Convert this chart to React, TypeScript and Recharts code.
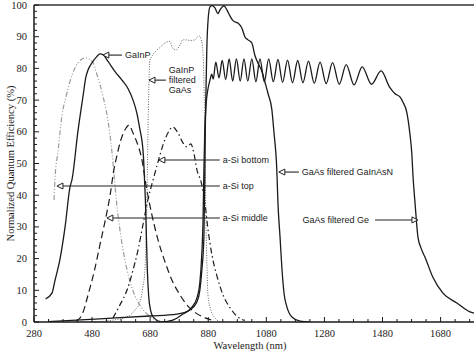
import React from 'react';
import { LineChart, Line, XAxis, YAxis, ReferenceLine } from 'recharts';

type Pt = [number, number];

// [wavelength nm, normalized QE %]
const gainp: Pt[] = [
  [320, 7.3], [342, 9.1], [352, 13], [369, 19.6], [387, 30], [404, 42.6], [411, 45],
  [431, 60], [450, 72], [458, 77], [466, 79.5], [480, 81.8], [497, 83.8], [507, 84.6],
  [518, 84.3], [535, 82.2], [559, 79], [583, 76.3], [604, 73.6], [621, 70], [634, 66],
  [645, 60.6], [652, 57], [657, 52], [660, 46], [664, 37], [667, 27], [670, 17],
  [675, 8], [682, 3.5], [690, 1.6],
];

const aSiTop: Pt[] = [
  [349, 38.5], [352, 44.8], [363, 54], [376, 65], [390, 71], [411, 77.9], [431, 81.7],
  [456, 83.3], [480, 82.3], [497, 78], [518, 71], [535, 63.4], [548, 54], [556, 46],
  [564, 38], [576, 29], [593, 19.6], [614, 11.7], [638, 6.3], [662, 3.2], [686, 1.3],
  [714, 0.3],
];

const aSiMiddle: Pt[] = [
  [425, 0.3], [445, 2.2], [466, 8.5], [490, 17], [507, 24.3], [524, 31.5], [542, 40],
  [555, 48], [566, 52.7], [579, 57.4], [597, 61.2], [607, 62.1], [621, 59.6], [634, 56.8],
  [652, 51], [666, 43], [686, 33.8], [707, 25.9], [731, 19], [755, 13.2], [783, 8.5],
  [810, 5], [838, 2.8], [869, 1.3], [903, 0.3],
];

const aSiBottom: Pt[] = [
  [552, 1.3], [576, 5.4], [600, 10], [621, 16.4], [638, 22.7], [655, 30.6], [672, 38.5],
  [690, 44.8], [707, 50.5], [724, 55.8], [741, 59.6], [758, 61.5], [776, 59.6],
  [793, 56.5], [807, 55.2], [820, 56.2], [831, 53], [841, 48], [856, 44], [868, 38],
  [878, 30], [893, 21], [910, 14.5], [931, 8.5], [955, 4.5], [979, 1.8], [1006, 0.5],
];

const gainpFilteredGaAs: Pt[] = [
  [473, 0], [552, 0.6], [600, 1.6], [628, 3.8], [645, 6.3], [655, 11], [662, 16.4],
  [666, 26.8], [669, 38.5], [672, 57.4], [676, 76.3], [679, 82.5], [686, 83.8],
  [700, 85.5], [714, 86.6], [734, 88.2], [748, 88.5], [757, 86.5], [768, 85.8],
  [783, 87.4], [792, 89], [806, 89], [817, 88.8], [834, 89], [848, 90.3], [856, 89],
  [862, 85], [865, 76], [869, 54], [872, 32], [876, 16.4], [879, 8.5], [889, 3.8],
  [903, 1.3], [920, 0],
];

const gaasFilteredGaInAsN: Pt[] = [
  [328, 0.1], [507, 1], [679, 1.9], [772, 2.5], [817, 3.8], [841, 6.3], [851, 10],
  [858, 16.4], [865, 26.8], [868, 45], [870, 62], [872, 72], [875, 86], [880, 96],
  [886, 99.4], [893, 99.8], [903, 99.1], [913, 97.3], [922, 98.7], [934, 99.7],
  [945, 98.3], [955, 96.5], [966, 95], [982, 94.3], [996, 92.7], [1006, 90], [1017, 89],
  [1030, 88], [1041, 84], [1051, 81.7], [1065, 79], [1075, 75.7], [1086, 72], [1099, 67],
  [1106, 60], [1116, 48], [1120, 37.5], [1127, 27], [1134, 16.4], [1141, 9], [1151, 4.7],
  [1168, 1.6], [1196, 0.3], [1230, 0],
];

const gaasFilteredGe: Pt[] = [
  [690, 1.6], [714, 0], [758, 0.6], [793, 2.5], [824, 4.7], [841, 7.6], [851, 12.3],
  [858, 21.8], [862, 32], [865, 48], [868, 60], [872, 68], [879, 73.5], [886, 76.3],
  [892, 78.2], [897, 76.6], [906, 82], [917, 77], [928, 82.5], [940, 76.5], [952, 83],
  [964, 76], [977, 83], [990, 76], [1003, 83], [1016, 76], [1030, 83], [1044, 75.8],
  [1058, 83], [1073, 75.8], [1088, 83], [1104, 75.8], [1120, 82.8], [1136, 75.6],
  [1153, 82.6], [1170, 75.5], [1188, 82.5], [1206, 75.5], [1225, 82.3], [1245, 75.3],
  [1265, 82], [1286, 75.2], [1308, 81.8], [1331, 75], [1355, 81.2], [1382, 74.8],
  [1410, 80.5], [1442, 75], [1475, 79.2], [1505, 74], [1523, 72], [1540, 71],
  [1550, 69.4], [1564, 66], [1574, 59.6], [1581, 53], [1585, 46], [1592, 37.5],
  [1602, 26.8], [1614, 23], [1626, 20.5], [1653, 14.2], [1688, 9.1], [1736, 6],
  [1781, 3.2], [1795, 2.8],
];

// arrow labels: tail and tip in data coords
const notes = [
  { lines: ['GaInP'], tail: [583, 84.2], tip: [517, 84.2] },
  { lines: ['GaInP', 'filtered', 'GaAs'], tail: [734, 76.3], tip: [676, 76.3] },
  { lines: ['a-Si bottom'], tail: [920, 51.1], tip: [710, 51.1] },
  { lines: ['a-Si top'], tail: [920, 42.9], tip: [359, 42.9] },
  { lines: ['a-Si middle'], tail: [920, 32.8], tip: [531, 32.8] },
  { lines: ['GaAs filtered GaInAsN'], tail: [1192, 47.3], tip: [1123, 47.3] },
  { lines: ['GaAs filtered Ge'], tail: [1454, 32.2], tip: [1602, 32.2] },
];

const xMajor = [280, 480, 680, 880, 1080, 1280, 1480, 1680];
const xTicks = Array.from({ length: 31 }, (_, i) => 280 + i * 50);
const yMajor = [0, 10, 20, 30, 40, 50, 60, 70, 80, 90, 100];
const yTicks = Array.from({ length: 51 }, (_, i) => i * 2);

const serif = '"Liberation Serif", "Times New Roman", serif';
const sans = '"Liberation Sans", Arial, sans-serif';
const ink = '#1a1a1a';

const rows = (pts: Pt[]) => pts.map(([nm, qe]) => ({ nm, qe }));

const XTick = ({ x, y, payload }: any) => {
  const major = xMajor.includes(payload.value);
  return (
    <g>
      <line x1={x} x2={x} y1={y} y2={y - (major ? 5 : 3)} stroke={ink} />
      {major && (
        <text x={x} y={y + 11} textAnchor="middle" dominantBaseline="central"
          fontFamily={serif} fontSize={10.5} fill={ink}>
          {payload.value}
        </text>
      )}
    </g>
  );
};

const YTick = ({ x, y, payload }: any) => {
  const major = yMajor.includes(payload.value);
  return (
    <g>
      <line x1={x} x2={x + (major ? 5 : 3)} y1={y} y2={y} stroke={ink} />
      {major && (
        <text x={x - 7} y={y} textAnchor="end" dominantBaseline="central"
          fontFamily={serif} fontSize={10.5} fill={ink}>
          {payload.value}
        </text>
      )}
    </g>
  );
};

const YLabel = ({ viewBox }: any) => {
  const cy = viewBox.y + viewBox.height / 2;
  return (
    <text x={10} y={cy} transform={`rotate(-90 10 ${cy})`} textAnchor="middle"
      dominantBaseline="central" fontFamily={serif} fontSize={10.5} fill={ink}>
      Normalized Quantum Efficiency (%)
    </text>
  );
};

const XLabel = ({ viewBox }: any) => (
  <text x={viewBox.x + viewBox.width / 2 - 4} y={viewBox.y + 23} textAnchor="middle"
    dominantBaseline="central" fontFamily={serif} fontSize={10.5} fill={ink}>
    Wavelength (nm)
  </text>
);

const Arrow = ({ x1, y1, x2, y2, lines }: any) => {
  const dir = x2 < x1 ? -1 : 1;
  const bx = x2 - dir * 6;
  const textX = dir < 0 ? x1 + 3 : x1 - 6;
  const offs = lines.length === 1 ? [0] : [-10, 0, 10];
  return (
    <g>
      <line x1={x1} y1={y1} x2={bx} y2={y2} stroke="#222" strokeWidth={1.1} />
      <polygon points={`${x2},${y2} ${bx},${y2 - 3} ${bx},${y2 + 3}`}
        fill="#fff" stroke="#222" strokeWidth={1} />
      {lines.map((t: string, i: number) => (
        <text key={t} x={textX} y={y1 + offs[i]} textAnchor={dir < 0 ? 'start' : 'end'}
          dominantBaseline="central" fontFamily={sans} fontSize={9} fill="#222">
          {t}
        </text>
      ))}
    </g>
  );
};

export default function App() {
  return (
    <div style={{ width: 474, height: 351, background: '#fff' }}>
      <style>{'body{margin:0}'}</style>
      <LineChart width={474} height={351} margin={{ top: 5, right: 0, bottom: 0, left: 0 }}>
        <XAxis
          type="number"
          dataKey="nm"
          domain={[280, 1795]}
          ticks={xTicks}
          interval={0}
          height={29}
          tickSize={0}
          tickMargin={0}
          tickLine={false}
          tick={<XTick />}
          axisLine={{ stroke: ink, strokeWidth: 1.5 }}
          label={<XLabel />}
          allowDataOverflow
        />
        <YAxis
          type="number"
          domain={[0, 100]}
          ticks={yTicks}
          interval={0}
          width={34}
          tickSize={0}
          tickMargin={0}
          tickLine={false}
          tick={<YTick />}
          axisLine={{ stroke: ink, strokeWidth: 1.5 }}
          label={<YLabel />}
          allowDataOverflow
        />
        <ReferenceLine y={100} stroke="#333" strokeWidth={1.5} />

        <Line data={rows(aSiTop)} dataKey="qe" type="monotone" stroke="#9a9a9a" strokeWidth={1.2}
          strokeDasharray="5 2 1 2 1 2" dot={false} activeDot={false} isAnimationActive={false} />
        <Line data={rows(aSiMiddle)} dataKey="qe" type="monotone" stroke={ink} strokeWidth={1.2}
          strokeDasharray="7 4" dot={false} activeDot={false} isAnimationActive={false} />
        <Line data={rows(aSiBottom)} dataKey="qe" type="monotone" stroke={ink} strokeWidth={1.2}
          strokeDasharray="6 3 1.5 3" dot={false} activeDot={false} isAnimationActive={false} />
        <Line data={rows(gainpFilteredGaAs)} dataKey="qe" type="monotone" stroke="#666" strokeWidth={1}
          strokeDasharray="1 1.5" dot={false} activeDot={false} isAnimationActive={false} />
        <Line data={rows(gainp)} dataKey="qe" type="monotone" stroke={ink} strokeWidth={1.3}
          dot={false} activeDot={false} isAnimationActive={false} />
        <Line data={rows(gaasFilteredGaInAsN)} dataKey="qe" type="monotone" stroke={ink} strokeWidth={1.3}
          dot={false} activeDot={false} isAnimationActive={false} />
        <Line data={rows(gaasFilteredGe)} dataKey="qe" type="monotone" stroke={ink} strokeWidth={1.3}
          dot={false} activeDot={false} isAnimationActive={false} />

        {notes.map((n) => (
          <ReferenceLine
            key={n.lines.join(' ')}
            segment={[{ x: n.tail[0], y: n.tail[1] }, { x: n.tip[0], y: n.tip[1] }]}
            shape={(p: any) => <Arrow {...p} lines={n.lines} />}
          />
        ))}
      </LineChart>
    </div>
  );
}
